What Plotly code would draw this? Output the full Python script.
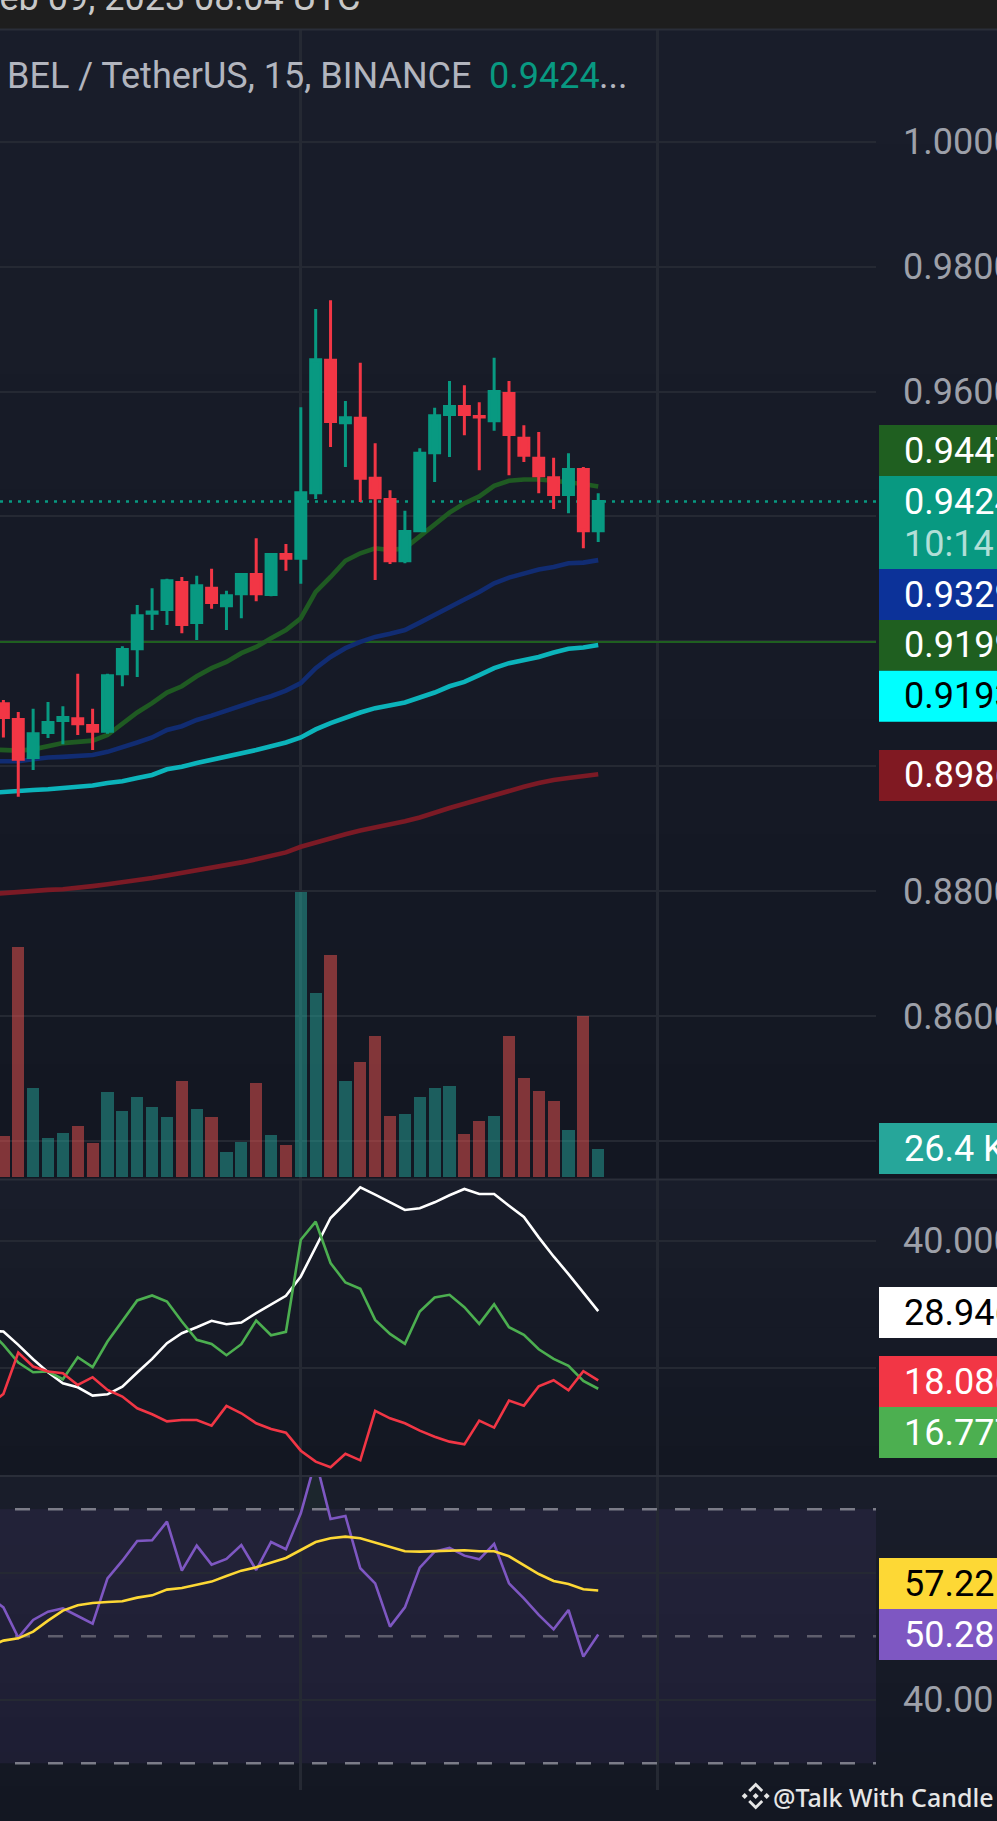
import plotly.graph_objects as go

# ---------- data ----------
idx = list(range(41))
line_idx = list(range(-1, 41))

open_ = [.9100,.9075,.9014,.9054,.9073,.9076,.9065,.9056,.9148,.9188,.9245,.9251,.9294,.9230,.9285,.9257,.9276,.9307,.9275,.9339,.9333,
         .9438,.9650,.9550,.9557,.9461,.9427,.9329,.9377,.9502,.9563,.9576,.9560,.9553,.9597,.9525,.9493,.9462,.9435,.9475,.9377]
high = [.9106,.9087,.9092,.9103,.9096,.9148,.9092,.9148,.9192,.9258,.9285,.9300,.9303,.9305,.9316,.9281,.9309,.9365,.9341,.9356,.9575,
        .9732,.9746,.9585,.9646,.9517,.9442,.9409,.9509,.9574,.9617,.9610,.9583,.9654,.9617,.9546,.9535,.9494,.9501,.9479,.9437]
low = [.9046,.8951,.8994,.9045,.9035,.9050,.9026,.9052,.9128,.9143,.9218,.9226,.9213,.9202,.9252,.9218,.9237,.9264,.9272,.9313,.9292,
       .9428,.9511,.9479,.9423,.9298,.9324,.9325,.9375,.9455,.9495,.9530,.9474,.9537,.9466,.9487,.9437,.9412,.9405,.9349,.9359]
close = [.9078,.9011,.9052,.9070,.9078,.9068,.9056,.9145,.9187,.9241,.9247,.9297,.9227,.9289,.9262,.9273,.9307,.9276,.9339,.9333,.9438,
         .9651,.9552,.9558,.9461,.9430,.9329,.9376,.9501,.9561,.9576,.9563,.9559,.9600,.9531,.9498,.9465,.9435,.9475,.9377,.9424]
volume_k = [37.5,212.4,81.7,36.5,41.1,47.6,31.9,78.0,61.4,74.3,64.2,55.0,89.0,63.2,55.0,23.6,32.8,87.2,38.4,29.2,263.1,
            170.1,204.2,89.0,106.5,129.6,55.9,58.6,73.4,82.6,84.4,40.2,51.3,55.9,129.6,90.9,79.8,70.6,43.9,148.9,26.4]

ema_green = [.9027,.9026,.9025,.9027,.9032,.9037,.9039,.9041,.9050,.9069,.9086,.9101,.9118,.9128,.9144,.9157,.9167,.9181,.9191,.9205,.9218,.9237,
             .9279,.9303,.9329,.9341,.9349,.9346,.9349,.9368,.9387,.9406,.9421,.9432,.9449,.9457,.9459,.9459,.9457,.9455,.9452,.9448]
ema_blue = [.9008,.9008,.9008,.9011,.9014,.9015,.9016,.9018,.9023,.9030,.9038,.9046,.9058,.9064,.9074,.9081,.9089,.9098,.9105,.9112,.9121,.9133,
            .9157,.9175,.9189,.9199,.9207,.9212,.9218,.9230,.9243,.9255,.9267,.9279,.9293,.9302,.9309,.9315,.9319,.9325,.9326,.9330]
ema_cyan = [.8957,.8959,.8961,.8962,.8963,.8965,.8967,.8969,.8973,.8976,.8981,.8986,.8995,.8999,.9005,.9010,.9015,.9021,.9026,.9032,.9038,.9046,
            .9059,.9069,.9078,.9086,.9093,.9097,.9102,.9110,.9118,.9128,.9135,.9146,.9157,.9165,.9170,.9175,.9182,.9188,.9190,.9194]
ema_maroon = [.8795,.8797,.8799,.8800,.8802,.8803,.8805,.8808,.8811,.8814,.8817,.8821,.8825,.8829,.8834,.8838,.8842,.8846,.8851,.8856,.8862,.8871,
              .8878,.8885,.8891,.8897,.8902,.8906,.8912,.8918,.8926,.8933,.8940,.8947,.8954,.8960,.8967,.8973,.8978,.8981,.8984,.8987]
last_price = 0.9424
support_price = 0.9199

adx = [25.86,25.75,23.66,21.40,19.36,17.63,17.00,15.70,15.90,17.11,19.31,21.46,23.92,25.49,26.43,27.43,26.90,27.16,28.63,29.94,31.35,34.39,
       39.00,43.56,45.91,48.37,47.22,46.02,44.81,45.08,46.02,47.12,48.11,47.33,47.33,45.49,43.71,40.52,37.53,34.76,31.77,28.94]
di_plus = [26.00,23.66,20.88,19.36,19.47,18.26,21.72,20.15,24.18,27.32,30.62,31.41,30.46,27.32,24.44,23.81,22.03,23.76,27.48,25.17,25.70,40.15,
           42.98,36.49,33.45,32.45,27.58,25.38,23.81,28.89,31.09,31.51,29.57,26.95,30.04,26.43,25.23,22.97,21.46,20.36,18.00,16.77]
di_minus = [14.07,15.96,22.45,20.25,19.47,19.20,17.37,18.58,16.59,15.54,13.70,12.76,11.66,11.87,11.87,10.98,14.07,12.92,11.35,10.46,9.88,7.05,
            5.33,4.44,6.58,5.54,13.29,12.13,11.35,10.20,9.25,8.47,8.05,11.77,10.67,14.91,14.12,17.16,18.10,16.53,19.52,18.08]
rsi = [56.24,54.56,49.79,52.57,53.88,54.41,53.20,51.99,59.13,61.91,65.01,65.11,68.05,60.34,64.27,61.28,62.18,64.38,60.44,64.85,63.70,69.37,
       77.76,68.47,68.95,60.71,58.34,51.52,54.56,60.81,63.33,63.91,62.70,62.12,64.54,58.34,55.98,53.36,51.10,54.14,46.80,50.28]
rsi_ma = [48.37,49.32,49.68,50.73,52.46,54.04,54.88,55.25,55.40,55.51,56.09,56.45,57.35,57.61,58.13,58.61,59.50,60.34,60.86,61.60,62.33,63.59,
          64.85,65.43,65.69,65.43,64.75,64.06,63.38,63.33,63.43,63.49,63.54,63.38,63.38,62.60,61.23,59.81,58.71,58.24,57.40,57.22]
rsi_levels = [70, 50, 30]

price_ticks = [0.84, 0.86, 0.88, 0.90, 0.92, 0.94, 0.96, 0.98, 1.00]
price_tick_text = ["", "0.8600", "0.8800", "", "", "", "0.9600", "0.9800", "1.0000"]
dmi_ticks = [20, 40]
dmi_tick_text = ["", "40.000"]
rsi_ticks = [40, 60]
rsi_tick_text = ["40.00", ""]
time_grid = [20, 44]

# ---------- style / layout constants ----------
W, H = 997, 1821
PLOT_R = 876
P1, P2, P3, P4 = 29.5, 1179.5, 1476, 1790
X_RANGE = [-0.2286, 58.68]
RED, TEAL = "#f23645", "#089981"
GRID = "#252933"
TICK = "#9da0a9"
FONT = "Roboto"

px = lambda x: x / W
py = lambda y: 1 - y / H


def hexmix(a, b, t):
    return "#" + "".join(f"{round(int(a[i:i+2],16)*(1-t)+int(b[i:i+2],16)*t):02x}" for i in (1, 3, 5))


shapes, annos = [], []


def rect(x0, y0, x1, y1, color, layer="above"):
    shapes.append(dict(type="rect", xref="paper", yref="paper", x0=px(x0), x1=px(x1), y0=py(y0), y1=py(y1),
                       fillcolor=color, line_width=0, layer=layer))


def text(x, y, s, color, size=36, anchor="left", family=FONT, weight=None):
    font = dict(family=family, size=size, color=color)
    if weight:
        font["weight"] = weight
    annos.append(dict(xref="paper", yref="paper", x=px(x), y=py(y), text=s, showarrow=False, xanchor=anchor,
                      yanchor="middle", font=font, borderpad=0, borderwidth=0))


# pane backgrounds (each pane fades from light to dark)
for top, bot in [(P1, P2), (P2, P3), (P3, H)]:
    n = 10
    for k in range(n):
        rect(0, top + (bot - top) * k / n, W, top + (bot - top) * (k + 1) / n + 1,
             hexmix("#191d2a", "#131722", k / (n - 1)), layer="below")
rect(0, 0, W, P1, "#1e1e1e", layer="below")

# rsi band
shapes.append(dict(type="rect", xref="paper", yref="y5", x0=0, x1=px(PLOT_R), y0=30, y1=70,
                   fillcolor="rgba(126,87,194,0.10)", line_width=0, layer="below"))

# separators
for y in (P1, P2, P3):
    shapes.append(dict(type="line", xref="paper", yref="paper", x0=0, x1=1, y0=py(y), y1=py(y),
                       line=dict(color="#2a2e39", width=2), layer="above"))

# price labels on the right
LBL_X, TXT_X = 879, 904
labels = [
    (425, 476, "#1f5f20", "0.9447", "white"),
    (476, 569, TEAL, None, None),
    (569, 620, "#0c3299", "0.9329", "white"),
    (620, 670.7, "#1f5f20", "0.9199", "white"),
    (670.7, 721.7, "#00ffff", "0.9193", "black"),
    (750, 801, "#801922", "0.8986", "white"),
    (1123, 1174, "#26a69a", "26.4 K", "white"),
    (1287, 1338, "white", "28.946", "black"),
    (1356, 1407, RED, "18.086", "white"),
    (1407, 1458, "#4caf50", "16.777", "white"),
    (1558, 1609, "#fdd835", "57.22", "black"),
    (1609, 1660, "#7e57c2", "50.28", "white"),
]
for y0, y1, col, s, tc in labels:
    rect(LBL_X, y0, W, y1, col)
    if s:
        text(TXT_X, (y0 + y1) / 2, s, tc)
text(TXT_X, 502, "0.9424", "white")
text(TXT_X, 544, "10:14", "rgba(255,255,255,0.7)")

# header and legend
text(360, -2, "Feb 09, 2023 08:04 UTC", "#c8c8c8", size=36, anchor="right")
text(7, 76, "BEL / TetherUS, 15, BINANCE", "#b2b5be", size=36)
text(489, 76, "0.9424", TEAL, size=36)
text(599, 76, "...", "#b2b5be", size=36)

# watermark
text(773, 1796.5, "@Talk With Candle", "#e6e6e6", size=25, family="Noto Sans", weight=500)
cx, cy = 755.7, 1796


def poly(points):
    d = "M" + " L".join(f"{px(cx + a)} {py(cy + b)}" for a, b in points) + " Z"
    shapes.append(dict(type="path", xref="paper", yref="paper", path=d, fillcolor="#e6e6e6", line_width=0))


for ox, oy in [(-11, 0), (11, 0), (0, 0)]:
    poly([(ox - 3, oy), (ox, oy - 3), (ox + 3, oy), (ox, oy + 3)])
poly([(0, -13.5), (7.5, -6), (5.5, -4), (0, -9.5), (-5.5, -4), (-7.5, -6)])
poly([(0, 13.5), (7.5, 6), (5.5, 4), (0, 9.5), (-5.5, 4), (-7.5, 6)])

# ---------- traces ----------
fig = go.Figure()

# volume
fig.add_trace(go.Bar(x=idx, y=volume_k, width=0.82, yaxis="y", xaxis="x",
                     marker=dict(color=["#26a69a" if c >= o else "#ef5350" for o, c in zip(open_, close)], opacity=0.5, line_width=0),
                     showlegend=False))

# horizontal price lines
fig.add_trace(go.Scatter(x=[X_RANGE[0], X_RANGE[1]], y=[support_price] * 2, mode="lines", yaxis="y2", xaxis="x",
                         line=dict(color="#1f5f20", width=2), showlegend=False))
fig.add_trace(go.Scatter(x=[X_RANGE[0], X_RANGE[1]], y=[last_price] * 2, mode="lines", yaxis="y2", xaxis="x",
                         line=dict(color=TEAL, width=2.4, dash="3px,6px"), showlegend=False))

# moving averages
for series, col in [(ema_maroon, "#7b1a25"), (ema_cyan, "#0cb4bb"), (ema_blue, "#112c72"), (ema_green, "#1f5a22")]:
    fig.add_trace(go.Scatter(x=line_idx, y=series, mode="lines", yaxis="y2", xaxis="x",
                             line=dict(color=col, width=4.6), showlegend=False))

# candles
fig.add_trace(go.Candlestick(x=idx, open=open_, high=high, low=low, close=close, yaxis="y3", xaxis="x",
                             whiskerwidth=0,
                             increasing=dict(line=dict(color=TEAL, width=3), fillcolor=TEAL),
                             decreasing=dict(line=dict(color=RED, width=3), fillcolor=RED),
                             showlegend=False))

# DMI
for series, col in [(adx, "white"), (di_plus, "#4caf50"), (di_minus, RED)]:
    fig.add_trace(go.Scatter(x=line_idx, y=series, mode="lines", xaxis="x2", yaxis="y4",
                             line=dict(color=col, width=2.6), showlegend=False))

# RSI: overbought fill, levels, lines
fig.add_trace(go.Scatter(x=line_idx, y=[rsi_levels[0]] * len(line_idx), mode="lines", xaxis="x3", yaxis="y5",
                         line=dict(width=0), showlegend=False))
fig.add_trace(go.Scatter(x=line_idx, y=[max(v, rsi_levels[0]) for v in rsi], mode="lines", xaxis="x3", yaxis="y5",
                         line=dict(width=0), fill="tonexty", fillcolor="rgba(76,175,80,0.07)", showlegend=False))
for lvl, col in zip(rsi_levels, ["#7b7c88", "#5f5e6d", "#7b7c88"]):
    fig.add_trace(go.Scatter(x=[-1.44, 60], y=[lvl, lvl], mode="lines", xaxis="x3", yaxis="y5",
                             line=dict(color=col, width=2.5, dash="15px,18px"), showlegend=False))
fig.add_trace(go.Scatter(x=line_idx, y=rsi, mode="lines", xaxis="x3", yaxis="y5",
                         line=dict(color="#7e57c2", width=2.6), showlegend=False))
fig.add_trace(go.Scatter(x=line_idx, y=rsi_ma, mode="lines", xaxis="x3", yaxis="y5",
                         line=dict(color="#fdd835", width=2.6), showlegend=False))

# ---------- axes ----------
xcommon = dict(range=X_RANGE, domain=[0, px(PLOT_R)], tickmode="array", tickvals=time_grid, showticklabels=False,
               showgrid=True, gridcolor=GRID, gridwidth=2.5, zeroline=False, ticks="", showline=False)
ycommon = dict(side="right", showgrid=True, gridcolor=GRID, gridwidth=2, zeroline=False, ticks="", showline=False,
               tickmode="array", tickfont=dict(family=FONT, size=36, color=TICK), ticklabelstandoff=26,
               ticklabeloverflow="allow")
main_dom = [py(P2), py(P1)]
price_range = [0.83382, 1.01797]

fig.update_layout(
    width=W, height=H, margin=dict(l=0, r=0, t=0, b=0, autoexpand=False), autosize=False,
    paper_bgcolor="#151924", plot_bgcolor="rgba(0,0,0,0)", showlegend=False,
    barmode="overlay", bargap=0, boxgap=0.32, boxgroupgap=0.015,
    xaxis=dict(anchor="y", rangeslider=dict(visible=False), **xcommon),
    xaxis2=dict(anchor="y4", **xcommon),
    xaxis3=dict(anchor="y5", **xcommon),
    yaxis=dict(domain=main_dom, range=[-2.6, 1056.6], visible=False, anchor="x"),
    yaxis2=dict(overlaying="y", range=price_range, tickvals=price_ticks, ticktext=price_tick_text, anchor="x", **ycommon),
    yaxis3=dict(overlaying="y", range=price_range, visible=False, anchor="x"),
    yaxis4=dict(domain=[py(P3), py(P2)], range=[3.08, 49.6], tickvals=dmi_ticks, ticktext=dmi_tick_text, anchor="x2", **ycommon),
    yaxis5=dict(domain=[py(P4), py(P3)], range=[25.8, 75.24], tickvals=rsi_ticks, ticktext=rsi_tick_text, anchor="x3", **ycommon),
    shapes=shapes, annotations=annos,
)

fig.write_html("out.html", config=dict(displayModeBar=False),
               post_script="document.body.style.margin='0';document.body.style.overflow='hidden';")
